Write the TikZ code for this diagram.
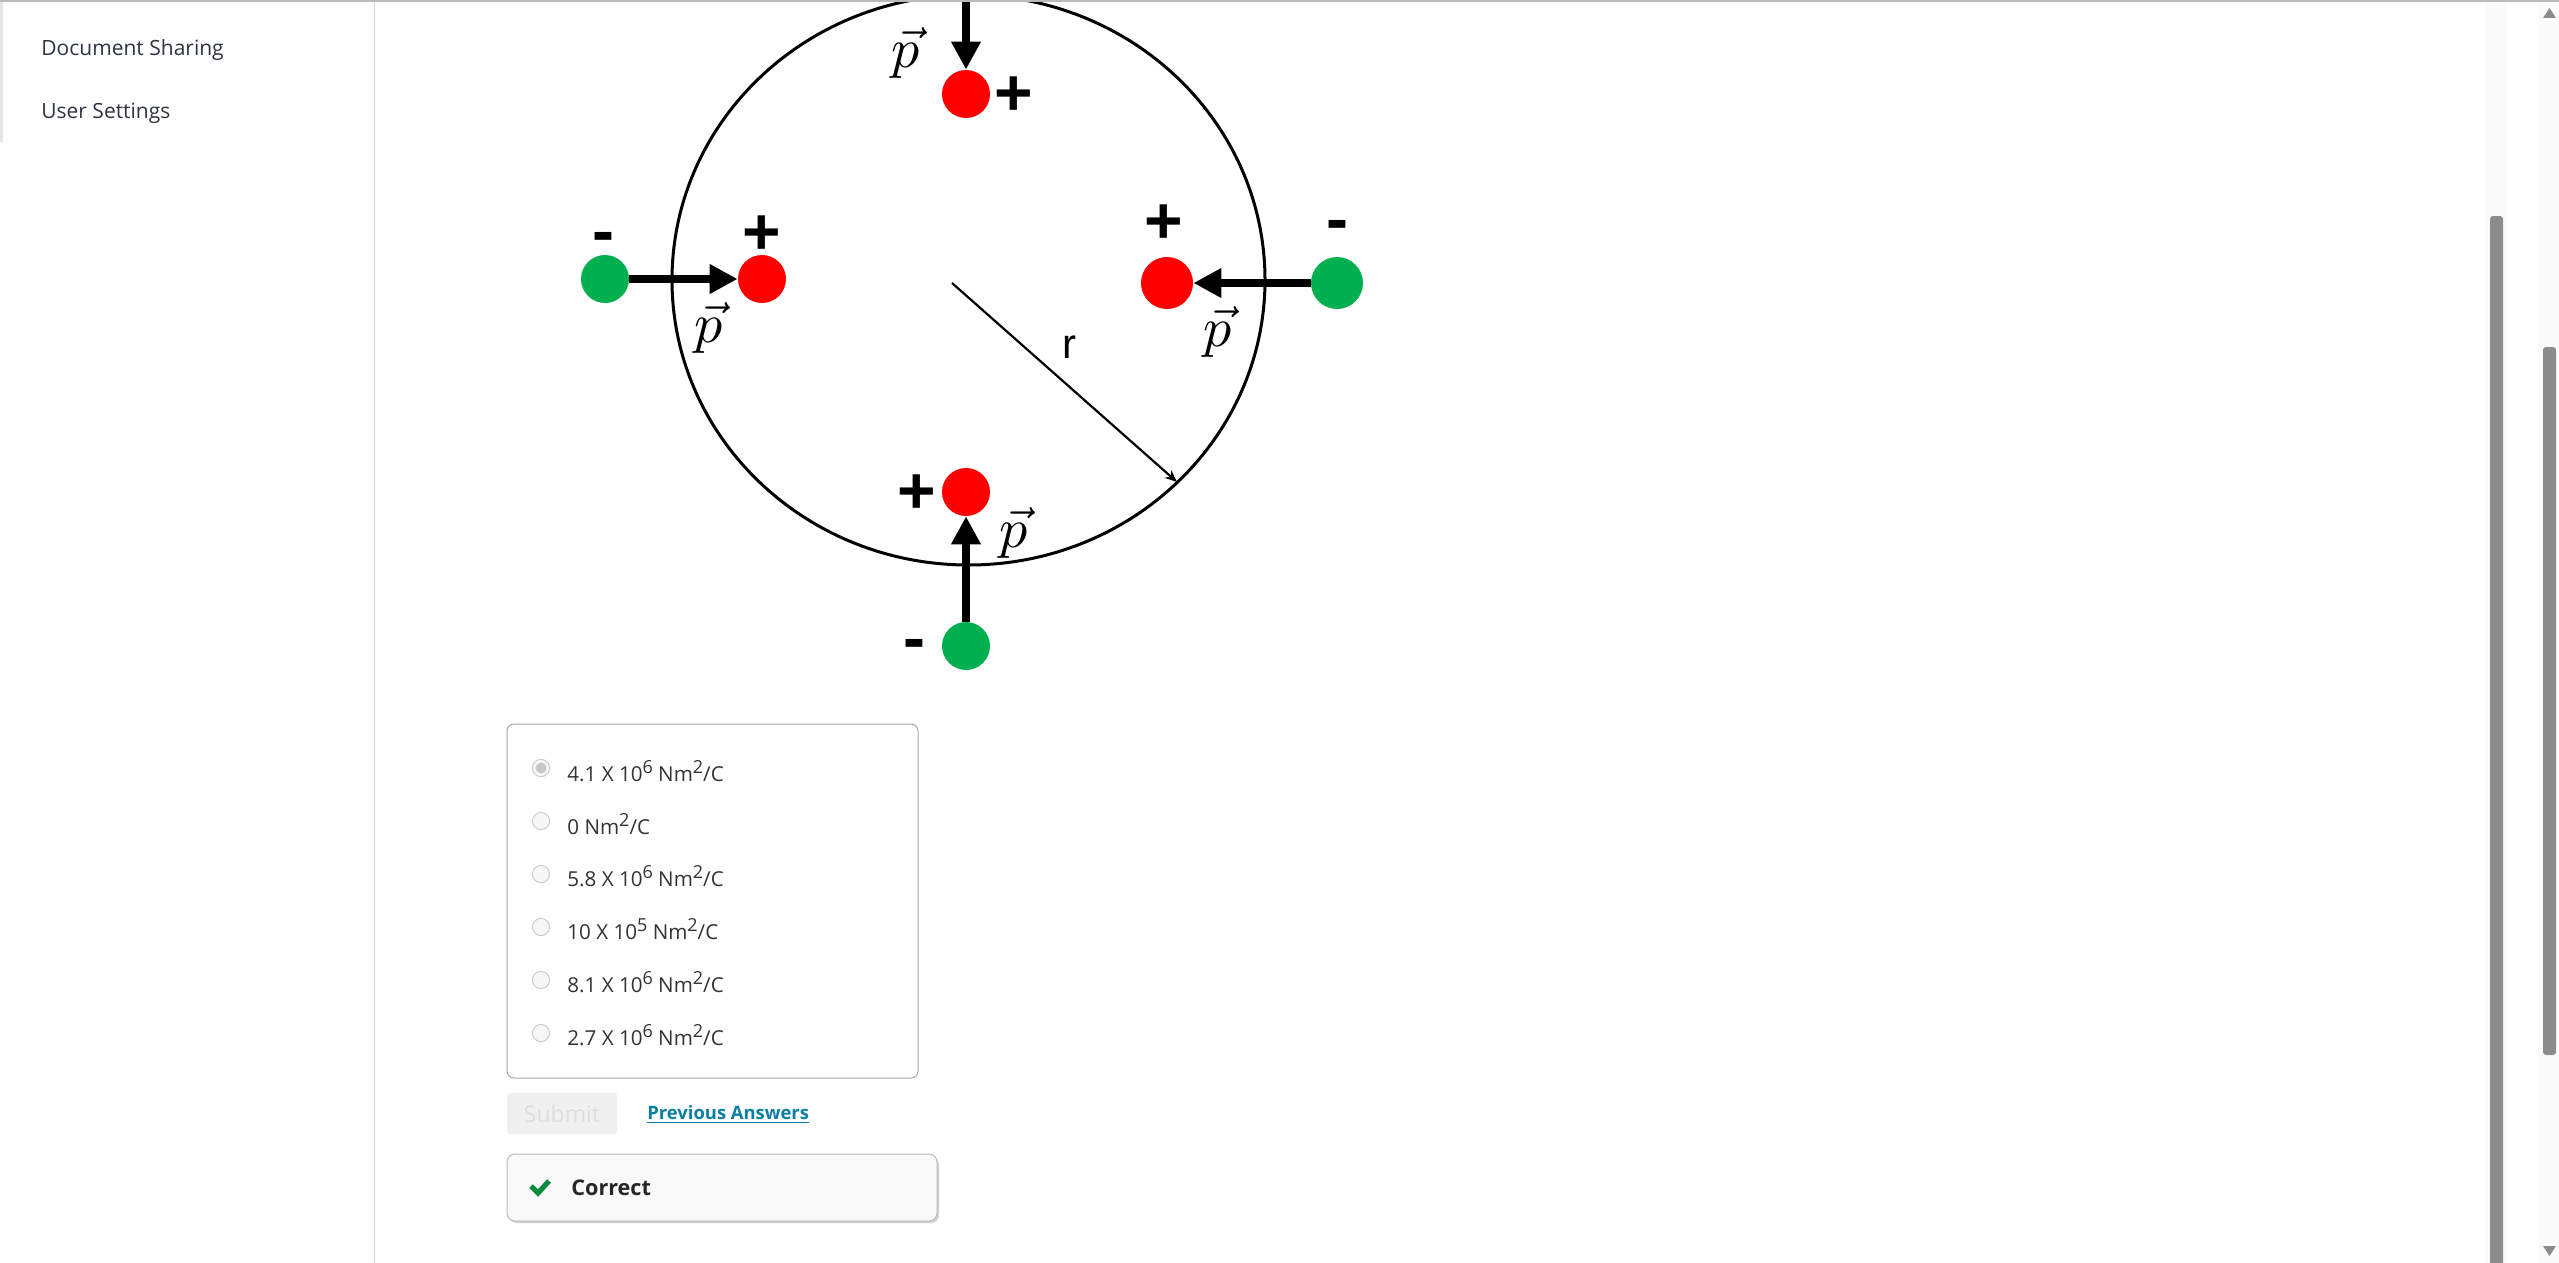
\documentclass[tikz,border=0pt]{standalone}
\usepackage{fontspec}
\setmainfont{Open Sans}
\newfontfamily\labfont{Liberation Sans}
\usetikzlibrary{arrows.meta,calc,shadows}
\definecolor{redq}{HTML}{FE0000}
\definecolor{greenq}{HTML}{00B050}
\definecolor{uitext}{HTML}{333333}
\definecolor{navtext}{HTML}{2D3540}
\definecolor{linkc}{HTML}{0B7FA3}
\definecolor{barc}{HTML}{8C8C8C}
\definecolor{trackc}{HTML}{FBFBFB}
\definecolor{stripec}{HTML}{E3E4E9}
\definecolor{okc}{HTML}{0A8A3E}
\newcommand{\px}[1]{\fontsize{#1}{#1}\selectfont}
\newcommand{\vp}{$\vec{p}$}
\newcommand{\upidx}[1]{\raisebox{3.6pt}{\px{9}#1}}
\tikzset{
  pole/.style={circle,inner sep=0pt,minimum size=24pt},
  poler/.style={pole,fill=redq},
  poleg/.style={pole,fill=greenq},
  polebig/.style={minimum size=26pt},
  dipole/.style={line width=4pt,draw=black,-{Triangle[length=14pt,width=14pt]}},
  plusl/.style={inner sep=0pt,font=\labfont\bfseries\px{33}},
  minusl/.style={inner sep=0pt,font=\labfont\bfseries\px{33}},
  plabel/.style={inner sep=0pt,scale=2.8},
  optl/.style={anchor=base west,inner sep=0pt,text=uitext,font=\px{10.3}},
  radio/.style={circle,inner sep=0pt,minimum size=8.6pt,draw=black!20,line width=.5pt,fill=black!3},
  navl/.style={anchor=base west,inner sep=0pt,text=navtext,font=\px{10.5}},
}
\begin{document}
\begin{tikzpicture}[x=0.5pt,y=-0.5pt]
\useasboundingbox (0,0) rectangle (2559,1263);
\fill[white] (0,0) rectangle (2559,1263);
% ---- sidebar
\fill[stripec] (0,2) rectangle (3,142);
\draw[black!17,line width=.75pt] (374.5,2) -- (374.5,1263);
\node[navl] (nav1) at (41,56) {Document Sharing};
\node[navl] (nav2) at (41,119) {User Settings};
% ---- diagram
\begin{scope}
\clip (0,2) rectangle (2559,1263);
\draw[line width=1.5pt] (968.5,280) ellipse [x radius=296.5,y radius=285];
\end{scope}
\node[poler] (rt) at (966,94) {};
\node[poler] (rl) at (762,279) {};
\node[poleg] (gl) at (605,279) {};
\node[poler,polebig] (rr) at (1167,283) {};
\node[poleg,polebig] (gr) at (1337,283) {};
\node[poler] (rb) at (966,492) {};
\node[poleg] (gb) at (966,646) {};
\coordinate (topend) at (966,2);
\draw[dipole] (topend) -- (rt);
\draw[dipole] (gl) -- (rl);
\draw[dipole] (gr) -- (rr);
\draw[dipole] (gb) -- (rb);
\node[plusl] (pt) at (1014,96) {+};
\node[plusl] (pl) at (762,235) {+};
\node[plusl] (pr) at (1164,224) {+};
\node[plusl] (pb) at (917,494) {+};
\node[minusl] (ml) at (603,243) {-};
\node[minusl] (mr) at (1337,231) {-};
\node[minusl] (mb) at (914,650) {-};
\node[plabel] (vt) at (906,53) {\vp};
\node[plabel] (vl) at (709,328) {\vp};
\node[plabel] (vr) at (1218,332) {\vp};
\node[plabel] (vb) at (1014,533) {\vp};
\coordinate (cen) at (952,283);
\coordinate (rim) at (1177,482);
\draw[line width=1.1pt,-{Stealth[length=6pt,width=5pt]}] (cen) -- (rim);
\node[inner sep=0pt,font=\labfont\px{21}] (rlab) at (1069,347) {r};
% ---- options box
\draw[draw=black!35,line width=.5pt,rounded corners=3.5pt] (507,724) rectangle (918,1078);
\foreach \n/\ry in {a/768,b/821,c/874,d/927,e/980,f/1033}{
  \node[radio] (radio\n) at (541,\ry) {};
}
\node[circle,inner sep=0pt,minimum size=5.5pt,fill=black!22] (dot) at (radioa) {};
\node[optl] (opta) at (567,781) {4.1 X 10\upidx{6} Nm\upidx{2}/C};
\node[optl] (optb) at (567,834) {0 Nm\upidx{2}/C};
\node[optl] (optc) at (567,886) {5.8 X 10\upidx{6} Nm\upidx{2}/C};
\node[optl] (optd) at (567,939) {10 X 10\upidx{5} Nm\upidx{2}/C};
\node[optl] (opte) at (567,992) {8.1 X 10\upidx{6} Nm\upidx{2}/C};
\node[optl] (optf) at (567,1045) {2.7 X 10\upidx{6} Nm\upidx{2}/C};
% ---- submit
\fill[black!6,rounded corners=1.5pt] (507,1093) rectangle (617,1134);
\node[inner sep=0pt,anchor=base,text=black!13,font=\px{11.5}] (sub) at (562,1122) {Submit};
\node[anchor=base west,inner sep=0pt,text=linkc,font=\bfseries\px{9.2}] (prev) at (647,1119) {\underline{Previous Answers}};
% ---- correct
\fill[black!18,rounded corners=4pt] (509,1157) rectangle (939,1223);
\draw[fill=black!2.5,draw=black!27,line width=.5pt,rounded corners=4pt] (507,1154) rectangle (937,1221);
\draw[draw=okc,line width=2.6pt] (531,1186) -- (538,1193) -- (549,1181);
\node[anchor=base west,inner sep=0pt,text=black!85,font=\bfseries\px{10.8}] (corr) at (571,1195) {Correct};
% ---- scrollbars
\fill[trackc] (2485,2) rectangle (2507,1263);
\fill[barc,rounded corners=1.5pt] (2490,216) rectangle (2503,1270);
\fill[trackc] (2538,2) rectangle (2559,1263);
\fill[barc,rounded corners=1.5pt] (2543,347) rectangle (2556,1055);
\fill[barc] (2543,18) -- (2549.5,8) -- (2556,18) -- cycle;
\fill[barc] (2543,1246) -- (2549.5,1256) -- (2556,1246) -- cycle;
% ---- top bar
\fill[black!27] (0,0) rectangle (2559,2);
\end{tikzpicture}
\end{document}
